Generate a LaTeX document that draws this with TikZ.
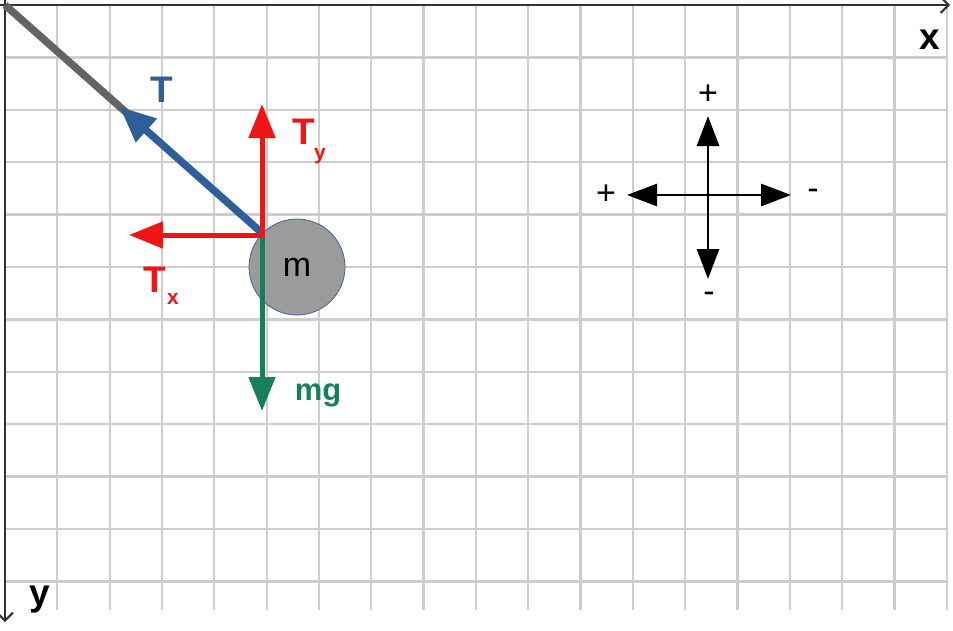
\documentclass[tikz,border=0pt]{standalone}
\usepackage{fontspec}
\setmainfont{Liberation Sans}
\usetikzlibrary{arrows.meta}
\definecolor{gridc}{RGB}{205,205,205}
\definecolor{axisc}{RGB}{50,50,50}
\definecolor{ropec}{RGB}{100,100,100}
\definecolor{tblue}{RGB}{47,95,152}
\definecolor{tred}{RGB}{240,20,20}
\definecolor{tgreen}{RGB}{22,128,94}
\definecolor{massc}{RGB}{155,155,155}
\definecolor{massedge}{RGB}{65,100,150}
\tikzset{
  gridline/.style={draw=gridc, line width=2.3pt},
  axisline/.style={draw=axisc, line width=2pt, -{Straight Barb[length=8pt,width=16pt,line width=2pt]}},
  bluevec/.style={draw=tblue, line width=7.5pt, -{Triangle[length=36pt,width=30pt]}, shorten >=-2pt},
  redvec/.style={draw=tred, line width=5pt, -{Triangle[length=34pt,width=26pt]}},
  greenvec/.style={draw=tgreen, line width=5pt, -{Triangle[length=34pt,width=26pt]}},
  signvec/.style={draw=black, line width=2.8pt, -{Triangle[length=30pt,width=22pt]}},
  biglab/.style={font=\fontsize{37}{40}\selectfont\bfseries, inner sep=0pt},
  sublab/.style={font=\fontsize{21}{22}\selectfont\bfseries, inner sep=0pt},
  signlab/.style={font=\fontsize{34}{36}\selectfont, inner sep=0pt},
}
\begin{document}
\begin{tikzpicture}[x=1pt,y=-1pt]
\useasboundingbox (0,0) rectangle (953,630);
\fill[white] (0,0) rectangle (953,630);
% grid
\foreach \k in {1,...,18} {
  \draw[gridline] ({5+52.33*\k},5) -- ({5+52.33*\k},610);
}
\foreach \k in {1,...,11} {
  \draw[gridline] (5,{5+52.4*\k}) -- (948,{5+52.4*\k});
}
% axes
\coordinate (orig) at (5,5);
\coordinate (xend) at (950,5);
\coordinate (yend) at (5,622);
\draw[axisline] (-2,5) -- (xend);
\draw[axisline] (5,-2) -- (yend);
\node[biglab] (xlab) at (930,40) {x};
\node[biglab] (ylab) at (40,600) {y};
% rope
\coordinate (ropeend) at (128,114);
\draw[draw=ropec, line width=7.5pt] (orig) -- (ropeend);
% mass
\node[circle, fill=massc, draw=massedge, line width=0.8pt, minimum size=96pt, inner sep=0pt,
      font=\fontsize{34}{36}\selectfont] (m) at (297,267) {m};
% vectors
\coordinate (O) at (262,233);
\coordinate (Ttip) at (121,108);
\coordinate (Tytip) at (262,104);
\coordinate (Txtip) at (129,235);
\coordinate (mgtip) at (262,411);
\draw[bluevec] (O) -- (Ttip);
\draw[greenvec] (O) -- (mgtip);
\draw[redvec] (O) -- (Tytip);
\draw[redvec] (264.5,235) -- (Txtip);
% labels
\node[biglab, text=tblue] (Tlab) at (162,90) {T};
\node[biglab, text=tred] (Tylab) at (304,132) {T};
\node[sublab, text=tred] (Tysub) at (320,156) {y};
\node[biglab, text=tred] (Txlab) at (155,280) {T};
\node[sublab, text=tred] (Txsub) at (173,299) {x};
\node[font=\fontsize{31}{32}\selectfont\bfseries, text=tgreen, inner sep=0pt] (mglab) at (318,395) {mg};
% sign cross
\coordinate (C) at (708,195);
\coordinate (Cup) at (708,116);
\coordinate (Cdn) at (708,279);
\coordinate (Cl) at (627,195);
\coordinate (Cr) at (791,195);
\draw[signvec] (C) -- (Cup);
\draw[signvec] (C) -- (Cdn);
\draw[signvec] (C) -- (Cl);
\draw[signvec] (C) -- (Cr);
\node[signlab] (pup) at (708,95) {+};
\node[signlab] (mdn) at (709,297) {-};
\node[signlab] (pl) at (606,195) {+};
\node[signlab] (mr) at (813,194) {-};
\end{tikzpicture}
\end{document}
